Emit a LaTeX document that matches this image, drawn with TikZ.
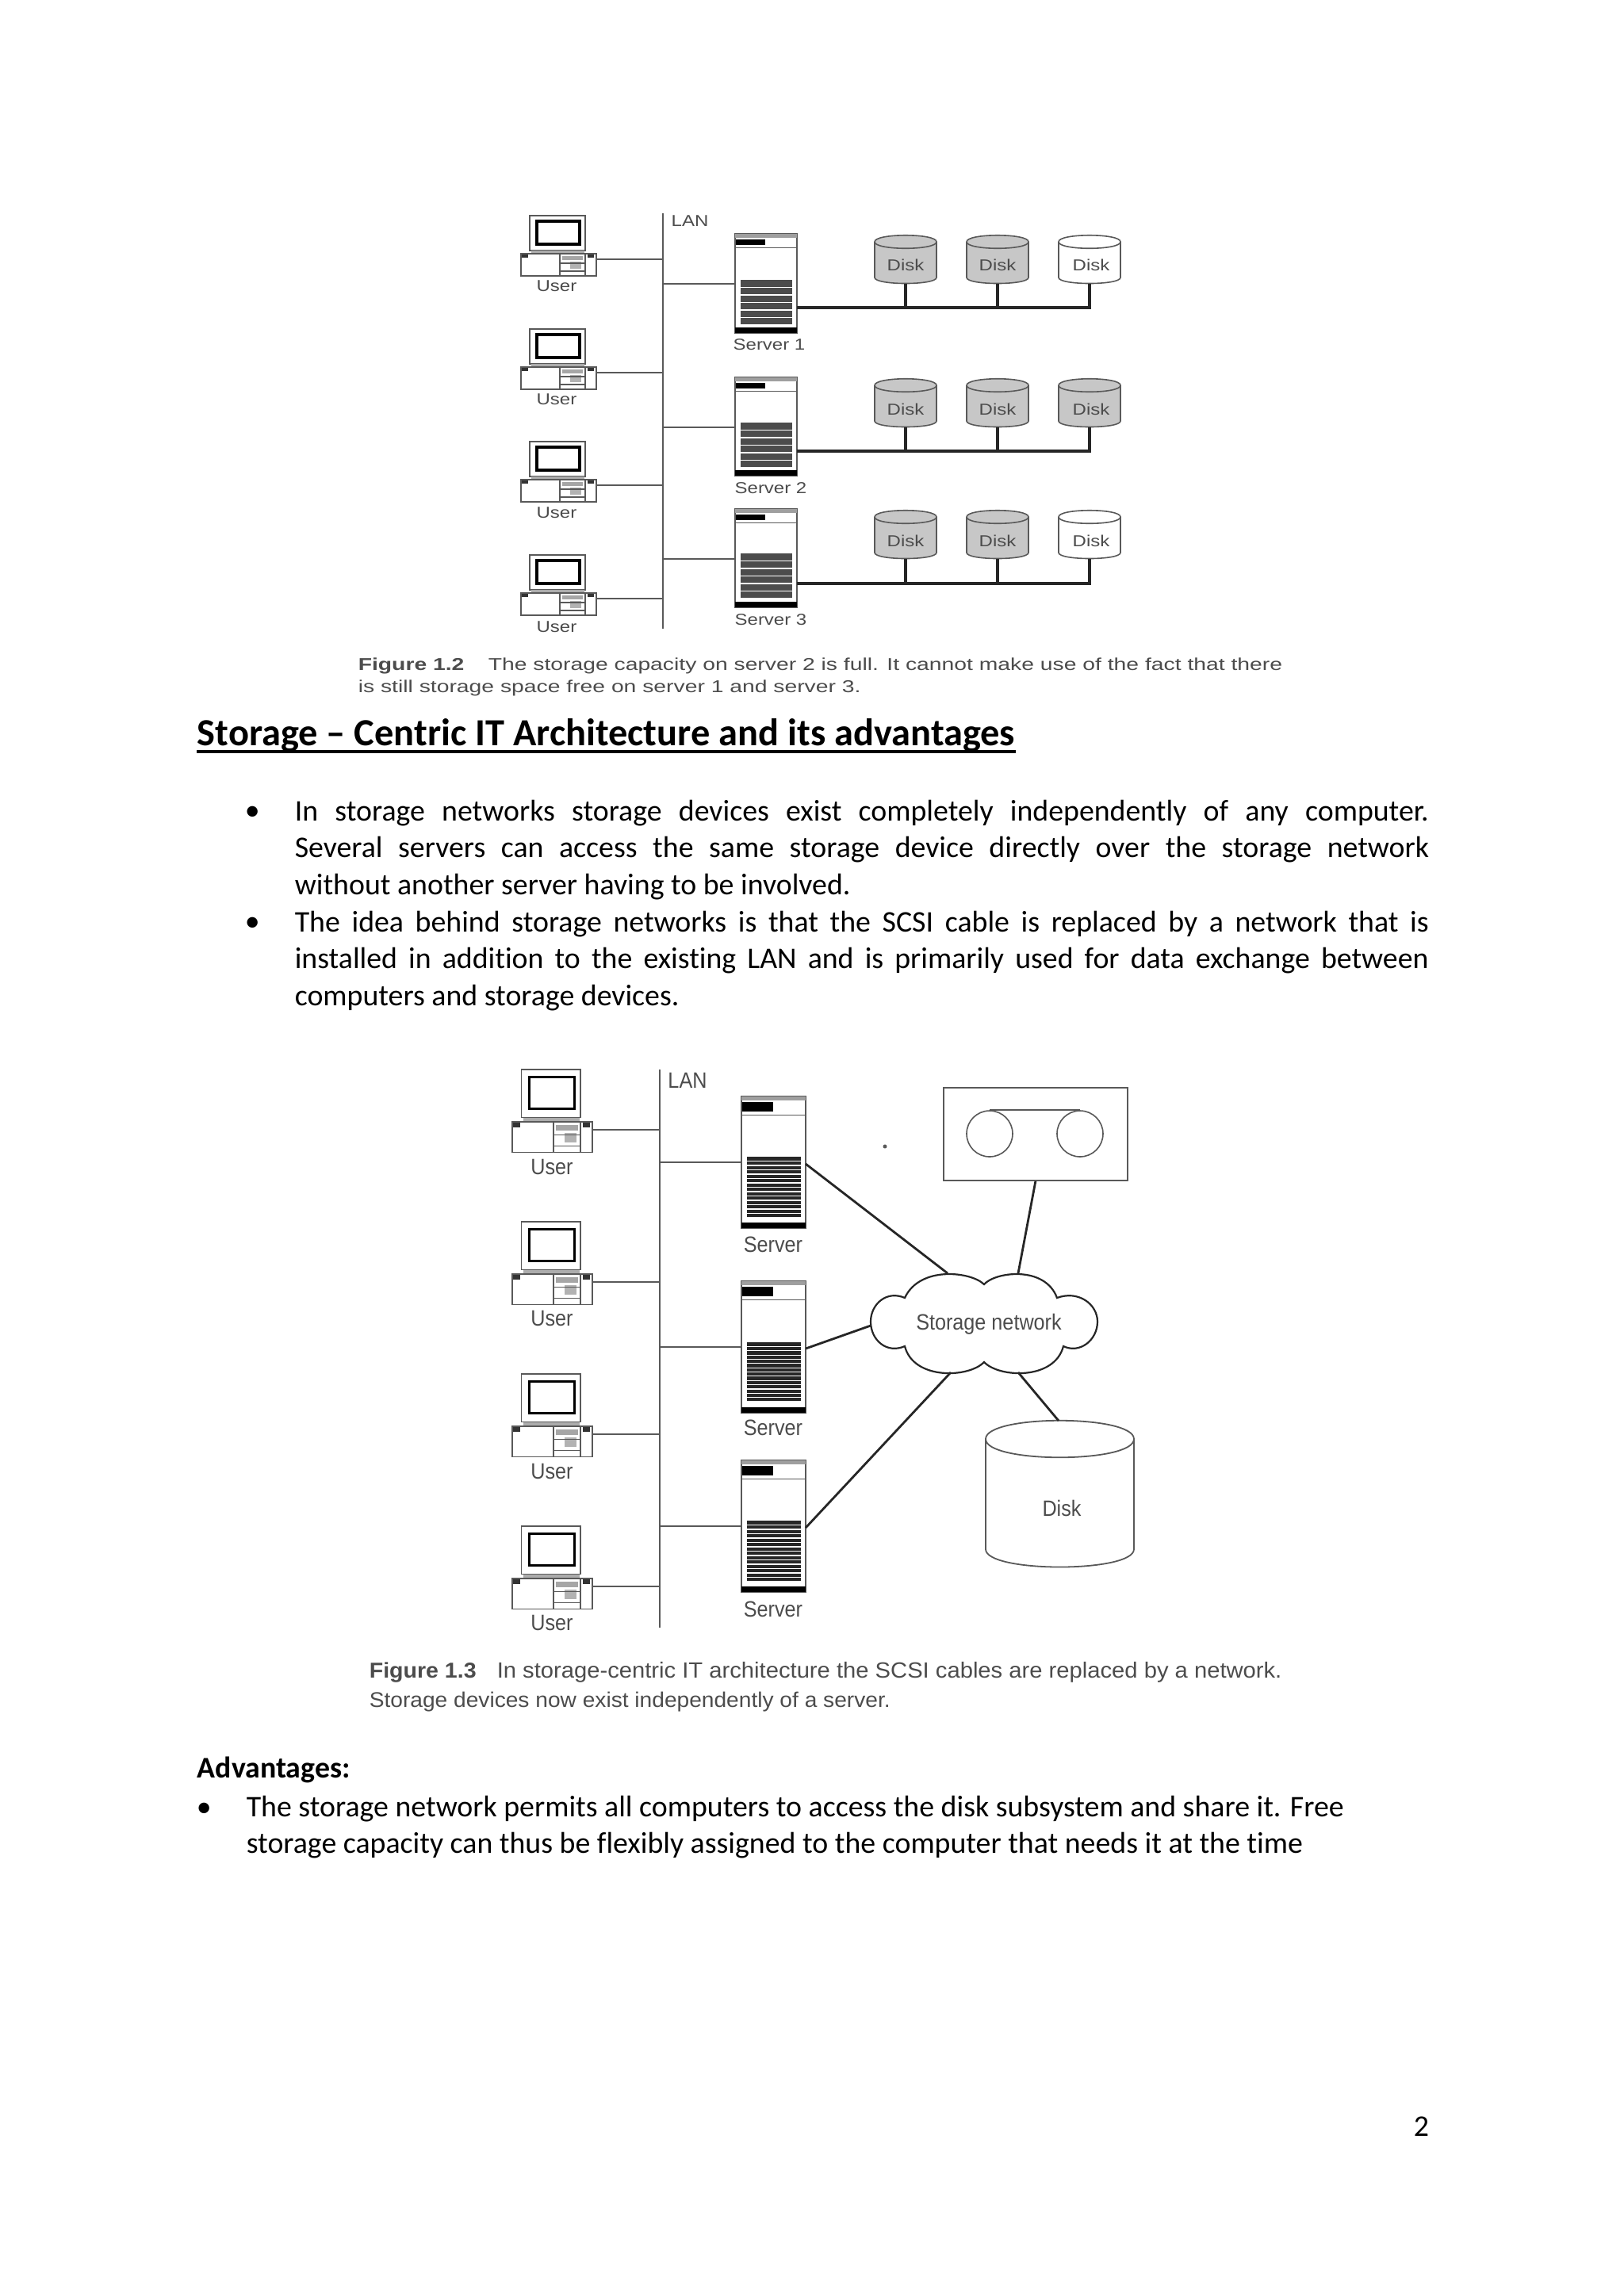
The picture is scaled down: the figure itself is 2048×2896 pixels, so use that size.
\documentclass[tikz,border=0pt]{standalone}
\usepackage{fontspec}
\setmainfont{Carlito}[Ligatures=CommonOff]
\newfontfamily\figa[FakeStretch=1.2]{Liberation Sans}
\newfontfamily\figb[FakeStretch=0.9]{Liberation Sans}
\newfontfamily\figc[FakeStretch=1.31]{Liberation Sans}
\newfontfamily\figd[FakeStretch=1.05]{Liberation Sans}
\definecolor{figtext}{gray}{0.3}
\definecolor{figline}{gray}{0.35}
\definecolor{diskgray}{gray}{0.78}
\tikzset{
  x=0.25pt,y=-0.25pt,
  thin line/.style={draw=figline,line width=0.5pt},
  bus line/.style={draw=black!85,line width=0.85pt},
  link line/.style={draw=black!85,line width=0.7pt},
  labela/.style={font=\figa\fontsize{5}{6}\selectfont,text=figtext,inner sep=0pt},
  labelb/.style={font=\figb\fontsize{7}{8}\selectfont,text=figtext,inner sep=0pt},
  capa/.style={font=\figc\fontsize{5.4}{6}\selectfont,text=figtext,inner sep=0pt,anchor=base west},
  capb/.style={font=\figd\fontsize{6.8}{8}\selectfont,text=figtext,inner sep=0pt,anchor=base west},
  body/.style={font=\fontsize{9.46}{11.62}\selectfont,inner sep=0pt,anchor=base west},
  para/.style={body,anchor=north west,text width=357.5pt,align=justify},
  outline/.style={draw=figline,line width=0.4pt,fill=white},
}
% #1 name, #2 x, #3 y of the top-left of the case, #4 xscale, #5 yscale
\newcommand\userpc[5]{
  \begin{scope}[shift={(#2,#3)},xscale=#4,yscale=#5]
    \draw[outline] (11,-48) rectangle (81,-4);
    \draw[draw=black,line width=0.8pt,fill=white] (20,-41) rectangle (74,-12);
    \fill[gray!65] (13,-4) rectangle (80,0);
    \draw[outline] (0,0) rectangle (95,28);
    \fill[black!80] (1,1) rectangle (9,5);
    \fill[black!80] (84,1) rectangle (92,5);
    \draw[outline] (49,0) rectangle (81,28);
    \fill[gray!70] (52,3) rectangle (78,8);
    \fill[gray!60] (62,10) rectangle (76,19);
    \draw[figline,line width=0.3pt] (50,12) -- (80,12) (50,22) -- (80,22);
    \coordinate (#1) at (95,7);
  \end{scope}
}
% #1 name, #2 x, #3 y, #4 w, #5 h, #6 stripe top, #7 stripe bottom, #8 stripe count, #9 stripe colour
\newcommand\srv[9]{
  \begin{scope}[shift={(#2,#3)}]
    \draw[outline] (0,0) rectangle (#4,#5);
    \fill[gray!75] (0,0) rectangle (#4,5);
    \fill[black] (1,7) rectangle ({#4*0.49},{#5*0.115});
    \draw[figline,line width=0.3pt] (0,{#5*0.14}) -- (#4,{#5*0.14});
    \fill[#9] (7,#6) rectangle ({#4-6},#7);
    \pgfmathsetmacro{\stp}{(#7-#6)/#8}
    \foreach \i in {1,...,#8}{
      \draw[white,line width=0.3pt] (7,{#6+\i*\stp}) -- ({#4-6},{#6+\i*\stp});
    }
    \fill[black] (0,{#5-7}) rectangle (#4,#5);
    \coordinate (#1) at (#4,#6);
    \coordinate (#1w) at (0,#6);
  \end{scope}
}
% #1 name, #2 x, #3 y, #4 fill
\newcommand\dsk[4]{
  \begin{scope}[shift={(#2,#3)}]
    \draw[draw=figline,line width=0.4pt,fill=#4] (0,8) -- (0,53) .. controls (0,63) and (78,63) .. (78,53) -- (78,8) .. controls (78,-3) and (0,-3) .. (0,8) -- cycle;
    \draw[draw=figline,line width=0.4pt] (0,8) .. controls (0,19) and (78,19) .. (78,8);
    \coordinate (#1) at (39,61);
  \end{scope}
}
\begin{document}
\begin{tikzpicture}
\useasboundingbox[fill=white] (0,0) rectangle (2048,2896);

% ---------- Figure 1.2
\coordinate (lanAt) at (836,269);
\coordinate (lanAb) at (836,793);
\draw[thin line] (lanAt) -- (lanAb);
\node[labela] (lanA) at (870,279) {LAN};

\userpc{ua1}{657}{320}{1}{1}
\userpc{ua2}{657}{463}{1}{1}
\userpc{ua3}{657}{605}{1}{1}
\userpc{ua4}{657}{748}{1}{1}
\foreach \n/\y in {1/361,2/504,3/647,4/791}{
  \node[labela] (ualab\n) at (702,\y) {User};
  \draw[thin line] (ua\n) -- (ua\n -| lanAt);
}

\srv{sa1}{927}{295}{78}{125}{58}{115}{6}{black!70}
\srv{sa2}{927}{476}{78}{124}{57}{114}{6}{black!70}
\srv{sa3}{927}{642}{78}{124}{56}{113}{6}{black!70}
\node[labela] (salab1) at (970,435) {Server 1};
\node[labela] (salab2) at (972,616) {Server 2};
\node[labela] (salab3) at (972,782) {Server 3};
\draw[thin line] (sa1w) ++(0,5) coordinate (sa1e) -- (sa1e -| lanAt);
\draw[thin line] (sa2w) ++(0,6) coordinate (sa2e) -- (sa2e -| lanAt);
\draw[thin line] (sa3w) ++(0,7) coordinate (sa3e) -- (sa3e -| lanAt);

\dsk{d11}{1103}{297}{diskgray}
\dsk{d12}{1219}{297}{diskgray}
\dsk{d13}{1335}{297}{white}
\dsk{d21}{1103}{478}{diskgray}
\dsk{d22}{1219}{478}{diskgray}
\dsk{d23}{1335}{478}{diskgray}
\dsk{d31}{1103}{644}{diskgray}
\dsk{d32}{1219}{644}{diskgray}
\dsk{d33}{1335}{644}{white}
\foreach \r/\y in {1/334,2/516,3/682}{
  \node[labela] (dl\r1) at (1142,\y) {Disk};
  \node[labela] (dl\r2) at (1258,\y) {Disk};
  \node[labela] (dl\r3) at (1376,\y) {Disk};
}
\coordinate (bus1) at (1005,388);
\coordinate (bus2) at (1005,569);
\coordinate (bus3) at (1005,736);
\foreach \r in {1,2,3}{
  \draw[bus line] (bus\r) -- (bus\r -| d\r3) -- (d\r3);
  \draw[bus line] (d\r1) -- (bus\r -| d\r1);
  \draw[bus line] (d\r2) -- (bus\r -| d\r2);
}

\node[capa,font=\figc\fontsize{5.4}{6}\selectfont\bfseries] (capa1) at (451,845) {Figure 1.2};
\node[capa] (capa2) at (615,845) {The storage capacity on server 2 is full. It cannot make use of the fact that there};
\node[capa] (capa3) at (451,873) {is still storage space free on server 1 and server 3.};

% ---------- Text
\node[body,font=\fontsize{12.1}{14}\selectfont\bfseries] (head) at (248,940) {Storage – Centric IT Architecture and its advantages};
\draw[line width=0.9pt] ([yshift=-2pt]head.base west) -- ([yshift=-2pt]head.base east);
\node[body] (b1) at (308,1034) {•};
\node[para] (p1) at (371,1008) {In storage networks storage devices exist completely independently of any computer.\linebreak Several servers can access the same storage device directly over the storage network\linebreak without another server having to be involved.};
\node[body] (b2) at (308,1174) {•};
\node[para] (p2) at (371,1148) {The idea behind storage networks is that the SCSI cable is replaced by a network that is\linebreak installed in addition to the existing LAN and is primarily used for data exchange between\linebreak computers and storage devices.};

% ---------- Figure 1.3
\coordinate (lanBt) at (832,1349);
\coordinate (lanBb) at (832,2053);
\draw[thin line] (lanBt) -- (lanBb);
\node[labelb] (lanB) at (867,1363) {LAN};

\userpc{ub1}{646}{1415}{1.06}{1.38}
\userpc{ub2}{646}{1607}{1.06}{1.38}
\userpc{ub3}{646}{1799}{1.06}{1.38}
\userpc{ub4}{646}{1991}{1.06}{1.38}
\foreach \n/\y in {1/1472,2/1663,3/1856,4/2047}{
  \node[labelb] (ublab\n) at (696,\y) {User};
  \draw[thin line] (ub\n) -- (ub\n -| lanBt);
}

\srv{sb1}{935}{1383}{81}{166}{76}{153}{14}{black!85}
\srv{sb2}{935}{1616}{81}{166}{77}{152}{14}{black!85}
\srv{sb3}{935}{1842}{81}{166}{76}{153}{14}{black!85}
\foreach \n/\y in {1/1570,2/1801,3/2030}{
  \node[labelb] (sblab\n) at (975,\y) {Server};
}
\draw[thin line] (sb1w) ++(0,7) coordinate (sb1e) -- (sb1e -| lanBt);
\draw[thin line] (sb2w) ++(0,6) coordinate (sb2e) -- (sb2e -| lanBt);
\draw[thin line] (sb3w) ++(0,7) coordinate (sb3e) -- (sb3e -| lanBt);

% tape
\node[draw=figline,line width=0.45pt,minimum width=58pt,minimum height=29.25pt,inner sep=0pt,anchor=north west] (tape) at (1189,1371) {};
\node[draw=figline,line width=0.4pt,circle,minimum size=14.5pt,inner sep=0pt] (reelL) at (1248,1430) {};
\node[draw=figline,line width=0.4pt,circle,minimum size=14.5pt,inner sep=0pt] (reelR) at (1362,1430) {};
\draw[draw=figline,line width=0.4pt] (reelL.north) -- (reelR.north);
\fill[figline] (1116,1446) circle (2.5);

% cloud
\coordinate (cT1) at (1195,1606);
\coordinate (cT2) at (1284,1606);
\coordinate (cL) at (1098,1672);
\coordinate (cB1) at (1199,1731);
\coordinate (cB2) at (1284,1731);
\draw[draw=black!85,line width=0.55pt,fill=white]
  (1241,1620) .. controls (1255,1604) and (1318,1596) .. (1333,1637)
  .. controls (1360,1627) and (1384,1645) .. (1384,1667)
  .. controls (1384,1690) and (1362,1708) .. (1341,1698)
  .. controls (1330,1741) and (1260,1738) .. (1241,1718)
  .. controls (1222,1738) and (1152,1741) .. (1141,1698)
  .. controls (1118,1708) and (1098,1690) .. (1098,1667)
  .. controls (1098,1645) and (1118,1627) .. (1141,1637)
  .. controls (1160,1596) and (1225,1604) .. (1241,1620) -- cycle;
\node[labelb] (net) at (1247,1670) {Storage network};

% disk
\draw[draw=figline,line width=0.45pt,fill=white] (1243,1815) -- (1243,1954) .. controls (1243,1984) and (1430,1984) .. (1430,1954) -- (1430,1815) .. controls (1430,1784) and (1243,1784) .. (1243,1815) -- cycle;
\draw[draw=figline,line width=0.45pt] (1243,1815) .. controls (1243,1846) and (1430,1846) .. (1430,1815);
\coordinate (bigdisk) at (1335,1792);
\node[labelb] (disklab) at (1339,1902) {Disk};

\draw[link line] (sb1) ++(0,9) coordinate (s1c) -- (cT1);
\draw[link line] (sb2) ++(0,8) coordinate (s2c) -- (cL);
\draw[link line] (sb3) ++(0,9) coordinate (s3c) -- (cB1);
\draw[link line] (cB2) -- (bigdisk);
\draw[link line] (tape.south) -- (cT2);

\node[capb,font=\figd\fontsize{6.8}{8}\selectfont\bfseries] (capb1) at (465,2116) {Figure 1.3};
\node[capb,font=\figd\fontsize{6.95}{8}\selectfont] (capb2) at (626,2116) {In storage-centric IT architecture the SCSI cables are replaced by a network.};
\node[capb,font=\figd\fontsize{6.7}{8}\selectfont] (capb3) at (465,2153) {Storage devices now exist independently of a server.};

% ---------- Advantages
\node[body,font=\fontsize{9.46}{11.62}\selectfont\bfseries] (adv) at (248,2242) {Advantages:};
\node[body] (b3) at (247,2291) {•};
\node[body] (a1) at (310,2291) {The storage network permits all computers to access the disk subsystem and share it. Free};
\node[body] (a2) at (310,2337) {storage capacity can thus be flexibly assigned to the computer that needs it at the time};
\node[body] (pg) at (1782,2694) {2};
\end{tikzpicture}
\end{document}
